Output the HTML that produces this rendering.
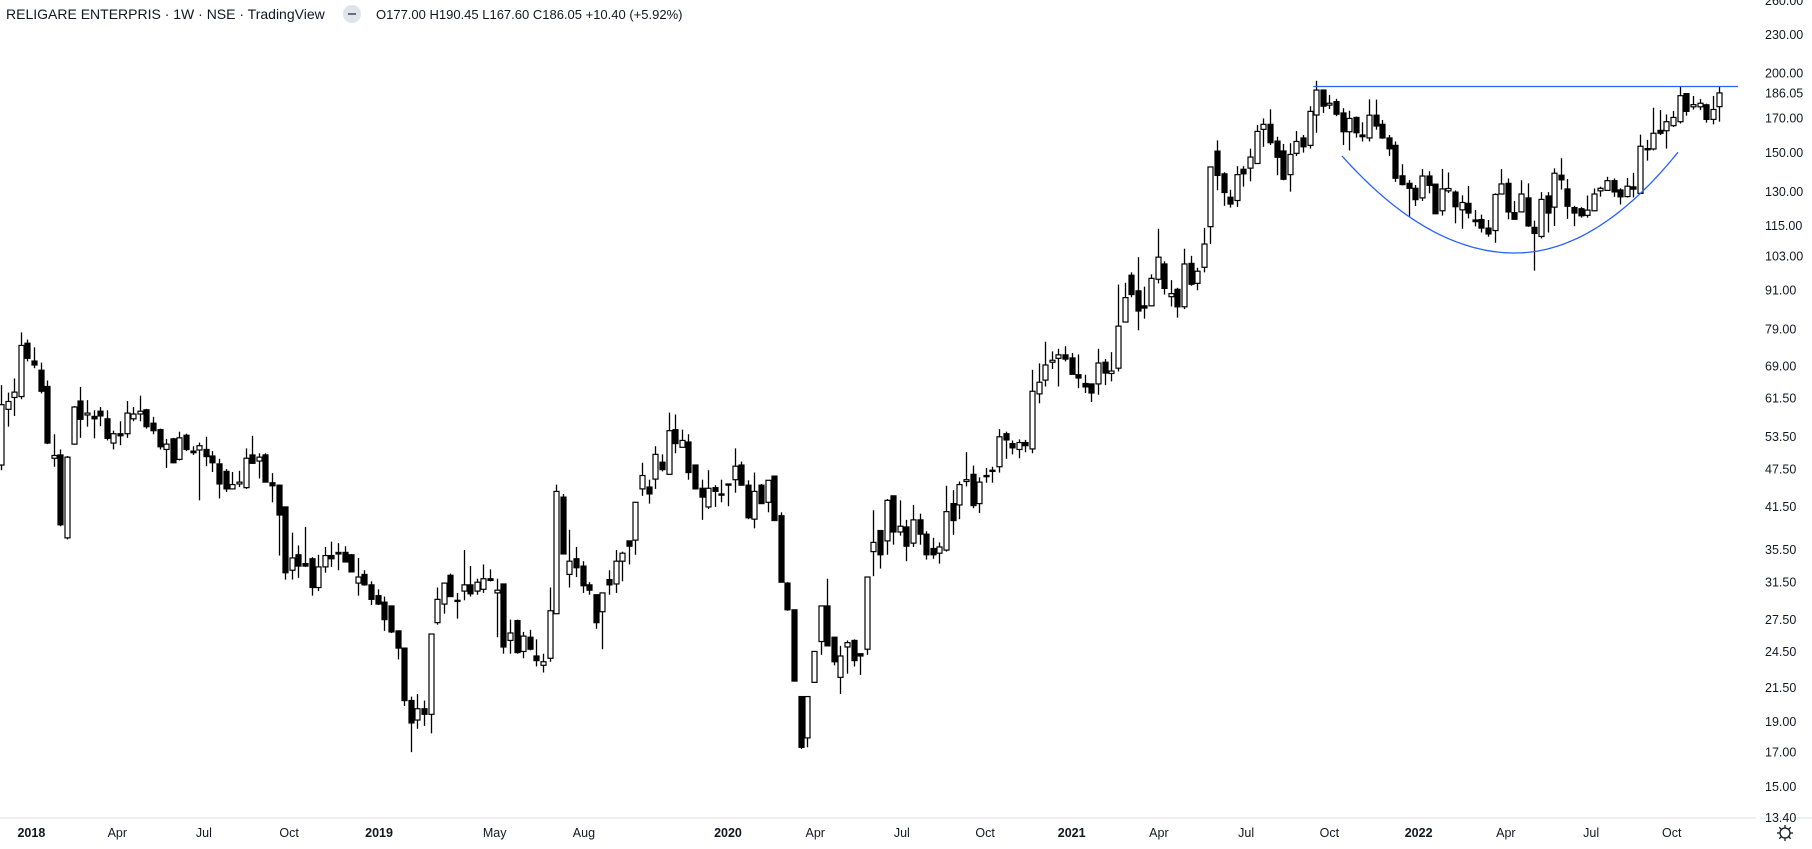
<!DOCTYPE html>
<html><head><meta charset="utf-8">
<style>
html,body{margin:0;padding:0;background:#fff;}
body{width:1812px;height:849px;overflow:hidden;position:relative;font-family:"Liberation Sans",sans-serif;}
svg{position:absolute;left:0;top:0;}
</style></head>
<body>
<svg id="chart" width="1812" height="849">
  <g id="candles"></g>
  <g id="overlays"></g>
  <line x1="0" y1="818" x2="1756" y2="818" stroke="#e0e3eb" stroke-width="1"/>
  <line x1="1760" y1="818" x2="1812" y2="818" stroke="#e0e3eb" stroke-width="1"/>
  <g id="yaxis"></g>
  <g id="xaxis"></g>
  <g transform="translate(1785,833)">
    <circle r="5" fill="none" stroke="#131722" stroke-width="1.3"/>
    <g stroke="#131722" stroke-width="1.3">
      <line x1="0" y1="-5" x2="0" y2="-8"/><line x1="0" y1="5" x2="0" y2="8"/>
      <line x1="-5" y1="0" x2="-8" y2="0"/><line x1="5" y1="0" x2="8" y2="0"/>
      <line x1="-3.5" y1="-3.5" x2="-5.7" y2="-5.7"/><line x1="3.5" y1="3.5" x2="5.7" y2="5.7"/>
      <line x1="-3.5" y1="3.5" x2="-5.7" y2="5.7"/><line x1="3.5" y1="-3.5" x2="5.7" y2="-5.7"/>
    </g>
  </g>
  <text x="6" y="19" font-size="14" fill="#131722">RELIGARE ENTERPRIS · 1W · NSE · TradingView</text>
  <g>
    <circle cx="352" cy="14" r="9" fill="#e0e3eb"/>
    <line x1="348" y1="14" x2="356" y2="14" stroke="#6a6d78" stroke-width="2"/>
  </g>
  <text x="376" y="19" font-size="13" fill="#131722">O177.00 H190.45 L167.60 C186.05 +10.40 (+5.92%)</text>
</svg>
<script>
const opens=[48.2,59,61.6,61.8,75,70.3,68,64.1,49.4,50,37,52,60.8,57.8,57.5,58.6,57,52.2,54,54,57,58,58.9,56.1,54.8,51,53,49.2,53.7,50.7,50.9,51,49.8,48.4,47.1,44.2,45,44.4,50,48.9,50,45.2,44.8,41.4,32.9,34.8,33.7,34.3,30.9,33.3,34.7,35.1,35.1,34.8,31.4,32.4,31.2,30,29.3,28.9,26.4,24.8,20.5,19.1,19.9,19.5,27.2,
29.1,32.3,29.5,30.5,31.2,30.5,30.7,31.9,30.3,31.3,25.5,27.4,24.5,25.8,24.1,23.3,23.9,28.1,42.9,32.4,34.3,33.4,31.2,30.1,28.3,31.8,31.3,34,36.6,36.7,44.2,44.5,45.8,48.7,46.6,54.8,51.4,52.4,48.2,44.3,41.4,44.4,43.4,45,45.7,48.2,44.8,39.6,44.8,42.1,46.3,40.1,31.4,28.5,20.8,17.9,21.9,25.4,28.9,25.8,22.3,24.9,25.5,24.3,24.7,
35.2,38,36.6,43.1,37.8,38.5,36.3,39.5,37.5,35.6,35,35.4,41.9,41.7,45.4,46.6,41.9,46.4,47.1,47.9,54,52.1,51,52.3,51.1,62.4,65.6,70,71,71.9,71.1,66.9,64.8,64.7,64.7,70,67.2,68.5,81,96,90.7,85.9,85.9,94.6,100,88.8,91.2,85.6,100.2,93.2,98.8,114.5,150.6,138.7,127.4,125.9,
141,141.6,144,163,166,156.2,150.7,138.3,149.4,158,153.8,171.7,188,178,180.3,173,161.6,170.2,159.7,158,171.6,166,158,153.8,137.7,134,131.6,127.1,137.6,133.6,121.3,130.4,129.8,121.7,124.6,117.3,117.5,113.9,112.9,
128.9,134,120.5,120.8,127.1,114.2,110.5,128,122.9,138,131.3,122.7,122.2,119.3,121.3,130.4,130.6,135.3,130.8,127.7,132.3,129.2,151.6,151.8,162.4,162.2,165.2,167.6,185.6,176.9,176.9,178.2,169,177];
const highs=[64.4,62.7,66,78,76,73.9,69.9,65.5,53.9,51,49.8,59.7,64,61,58.8,59.5,58.8,54.6,56.5,60.8,59.5,62,59.1,57.4,55,53,53.2,54.4,54,51.6,52.3,53.4,50.7,49.3,47.5,47,47.2,51.2,53.6,50.3,50.3,46.8,44.9,41.4,37.7,36,38.5,34.5,34.8,35.8,36.5,36.3,35.9,34.9,34.4,32.9,31.6,30.7,29.9,28.9,26.4,24.8,20.8,21,20.5,26.1,30.9,
31.4,32.5,30.3,35.4,33.4,31.9,33.6,33,31.9,31.3,27.5,27.5,26.3,26.5,25.6,24.3,30.9,44.9,43.4,38.1,35.8,34,31.5,30.1,30.3,32.9,35.4,35.2,36.6,42.1,48.6,45.7,51.6,50.1,58.3,57.9,54.8,53.9,48.2,45.7,47.3,44.8,45.7,45,51.2,48.8,45.6,46.9,45,45.6,46.3,40.6,31.5,28.5,20.8,20.8,24.5,28.9,31.9,25.8,25,25.5,25.6,24.3,32.1,
40.9,38,42.6,43.1,42.4,39.5,41.7,40.4,37.9,37,36.4,44.7,44,45.4,50.5,48.1,46.1,47.7,47.9,54.9,54.4,52.7,52.9,52.8,68.1,69.7,75.4,72.8,73.5,74.2,72.4,72,66.9,64.7,73.5,70.8,72.6,92.8,93.4,97,102.5,92.1,96.3,113.6,101,94.3,91.7,105.7,103,98.6,114,142.2,156.6,139.5,130.9,142.6,
142.6,152,165.6,169.6,175.3,158.7,154.6,155,162,159.7,177.3,194.4,188.4,184.7,182.1,176,174.4,170.8,167.2,181.8,181.6,168.6,159.7,156,143.6,135.6,133.2,141.1,140,133.6,141.2,139.4,130.6,128.3,132.7,121.6,119.6,117.3,129.2,
141.1,136.4,125.7,135.5,134,117,129.8,129.8,141.5,146.8,136.1,123.5,122.9,128.2,131.5,132.4,137.2,136.4,131.6,136.6,139.2,159.9,156.9,176.3,174.9,172.1,174.2,190.5,185.6,184,181.9,178.9,184,190.45];
const lows=[47.3,55.4,57.6,61.2,70.2,68.5,62.5,52,47.9,38.6,36.8,51.9,53.2,55.4,53.1,55.5,52.7,51,51.8,53.2,56.5,56.5,55,53.9,51,47.7,48.5,49,50.7,50,42.4,48,47,42.7,43.7,44.2,44.5,44.2,48.4,45.9,45.3,42.1,34.7,31.8,31.8,32,33.3,30,30.5,32.6,33.3,32.9,33.9,32.7,30,31.1,29,29,26.4,26.2,23.8,20.1,17,18.5,18.7,18.2,27,
28.1,29.9,27.6,29.5,29.9,30.1,30.3,31.6,25.8,24.3,24.3,24.3,23.9,24.6,23.2,22.7,23.6,28.1,34.9,30.9,32.1,30.3,30.1,26.6,24.7,30.1,30.3,31.6,33.6,34.8,43.1,41.9,44.2,47.1,46.6,50.3,51.4,45.7,44.1,39.5,41.1,41.4,42.1,41.5,43.6,44.8,39.6,38.3,41.9,40.6,39.4,31.5,28.4,22,17.2,17.3,21.9,24.2,25,23.3,21,22.6,23.2,22.5,24.2,
32.2,33.1,34.8,36.1,37.3,34,35.8,36.1,34.2,34.3,33.7,35.2,37.4,39.6,44.6,41.2,40.5,45.2,45.2,46.9,49.3,50.1,49.4,50.5,50.3,60.3,64.1,68.3,64.1,70.2,67,63.7,62.6,60.6,62.2,64.4,65.3,67.7,81,88.6,78.6,82,85.7,93.2,89.5,85.7,82.3,84.9,92.4,90.9,97,107.5,130.7,123.5,122.7,123,
132.4,135,144,153,154,138,135.5,130,148,149.8,152,161,173,175.5,171,154,151,158.2,156,156,162.8,157.5,148,134.7,133,118.7,123.4,125.7,129.2,119.8,119.2,129.4,115.9,113.6,118,114.6,112.1,110.4,108,
128.7,117.6,117.6,120.8,114.4,97.6,109.7,112.1,114.8,131,117.8,114.7,118.3,118.3,121.3,127.7,130.4,127.6,124.1,127.3,127.3,128.9,145.5,151,159.7,152,164.4,166.5,171.3,175.1,174.8,167,166,167.6];
const closes=[60,60.7,62.8,74.4,71,69.3,63,52.2,49.9,38.8,49.6,59.5,56.9,58.2,57,57.6,53.1,54,53.6,58.2,58,58.6,55.4,54.6,51.5,52,48.6,53.2,51,50.4,51.7,49.7,48.6,45,44.2,44.9,45.3,49.4,48.5,49.6,45.3,44.7,40.2,32.6,34.4,33.4,33.4,30.9,33.3,34.7,34.3,34.9,33.9,32.7,32.1,31.2,29.6,29.1,27.5,26.3,24.8,20.5,18.9,19.9,19.5,26.1,29.6,
31.4,29.9,29.4,31.2,30.2,31.5,31.9,31.7,30.6,24.9,26.2,24.4,25.9,24.7,23.7,23.6,28.4,43.8,34.9,34,33.2,31.1,30.6,27.2,30.3,31.2,34,35,35.9,42.1,46.4,43.4,50.1,47.4,54.6,52.1,52.7,46.9,44.2,42.9,44.3,43.8,43.2,44.8,48,44.8,39.8,43.8,41.9,45.6,39.4,31.5,28.5,22,17.3,20.8,24.5,28.9,25,23.6,24.1,25.3,23.7,24.1,32.1,
36.4,34.8,42.4,37.8,38.6,35.9,39.5,37.5,34.8,34.8,35.8,40.7,39.4,44.9,45.7,41.6,45.3,46.3,47.3,53.4,52.8,51.3,52.3,51.7,63,65.1,69.3,70.5,71.9,70.8,67,66.1,64,62.6,69.8,67.3,67.8,79.8,88.5,89.5,84.3,85.2,94.9,102.5,91.5,89.8,85.6,100,92.9,97.4,107.5,142.2,137.9,129.6,124.3,138.3,
138.7,147.4,161.8,166,155.3,147.3,136,148.8,156,153,174,188,177.3,179.2,172.2,161.6,169.6,161,158.7,171.6,165,158,151.9,136.5,133.4,131.6,126.3,137.6,133,120,131.3,131.5,123.1,125,120.3,116.6,113.9,111.5,128.7,
133.7,120.8,117.6,128.9,114.8,111.7,126.4,120.3,139,135.7,123.3,120.3,119.1,121.6,128.9,131.6,135.3,129.9,127.6,132.6,131.2,153.3,152,160.7,160.7,167.6,170.2,184.2,174,178.3,179.2,169,175.2,186.05];

const priceTicks=[260,230,200,186.05,170,150,130,115,103,91,79,69,61.5,53.5,47.5,41.5,35.5,31.5,27.5,24.5,21.5,19,17,15,13.4];
const timeLabels=["2018","Apr","Jul","Oct","2019","May","Aug","2020","Apr","Jul","Oct","2021","Apr","Jul","Oct","2022","Apr","Jul","Oct"];
const timeLabelIdx=[4.6,17.6,30.7,43.6,57.2,74.7,88.2,110,123.2,136.3,148.9,162,175.2,188.4,201,214.5,227.7,240.6,252.8];
const resistance=[190.45];

const NS="http://www.w3.org/2000/svg";
const X0=1, STEP=6.609;
function xOf(i){return X0+i*STEP;}
function yOf(p){return 73+275.5*Math.log(200/p);}
function mk(tag,attrs,parent){const e=document.createElementNS(NS,tag);for(const k in attrs)e.setAttribute(k,attrs[k]);parent.appendChild(e);return e;}

const cg=document.getElementById('candles');
for(let i=0;i<closes.length;i++){
  const x=Math.round(xOf(i))+0.5;
  const o=opens[i],c=closes[i],h=highs[i],l=lows[i];
  const g=mk('g',{},cg);
  
  
  mk('line',{x1:x,x2:x,y1:yOf(h),y2:yOf(l),stroke:'#000','stroke-width':1.3},g);
  const top=yOf(Math.max(o,c)),bot=yOf(Math.min(o,c));
  const up=c>=o;
  mk('rect',{x:x-2.5,y:top,width:5,height:Math.max(bot-top,1.2),fill:up?'#fff':'#000',stroke:'#000','stroke-width':1.2},g);
}

const ov=document.getElementById('overlays');
const ry=yOf(resistance[0]);
const rl=mk('line',{x1:xOf(199)-3,x2:1738,y1:ry,y2:ry,stroke:'#2962ff','stroke-width':1.2},ov);


let pts=[];
const xs=1342,xv=1515,xe=1679,yv=253,ys=156,ye=151;
for(let x=xs;x<=xe;x+=3){
  let y;
  if(x<=xv){y=yv-(yv-ys)*Math.pow((xv-x)/(xv-xs),2);}
  else{y=yv-(yv-ye)*Math.pow((x-xv)/(xe-xv),2);}
  pts.push(x+','+y.toFixed(1));
}
const cp=mk('polyline',{points:pts.join(' '),fill:'none',stroke:'#2962ff','stroke-width':1.3},ov);



const ya=document.getElementById('yaxis');
priceTicks.forEach(p=>{
  const t=mk('text',{x:1765,y:yOf(p)+4.5,'font-size':12.5,fill:'#131722'},ya);
  t.textContent=p.toFixed(2);
  
  
});
const xa=document.getElementById('xaxis');
timeLabels.forEach((s,k)=>{
  const isYear=/^\d{4}$/.test(s);
  const t=mk('text',{x:xOf(timeLabelIdx[k]),y:837,'font-size':12.5,fill:'#131722','text-anchor':'middle','font-weight':isYear?'bold':'normal'},xa);
  t.textContent=s;
  
  
});
</script>
</body></html>
